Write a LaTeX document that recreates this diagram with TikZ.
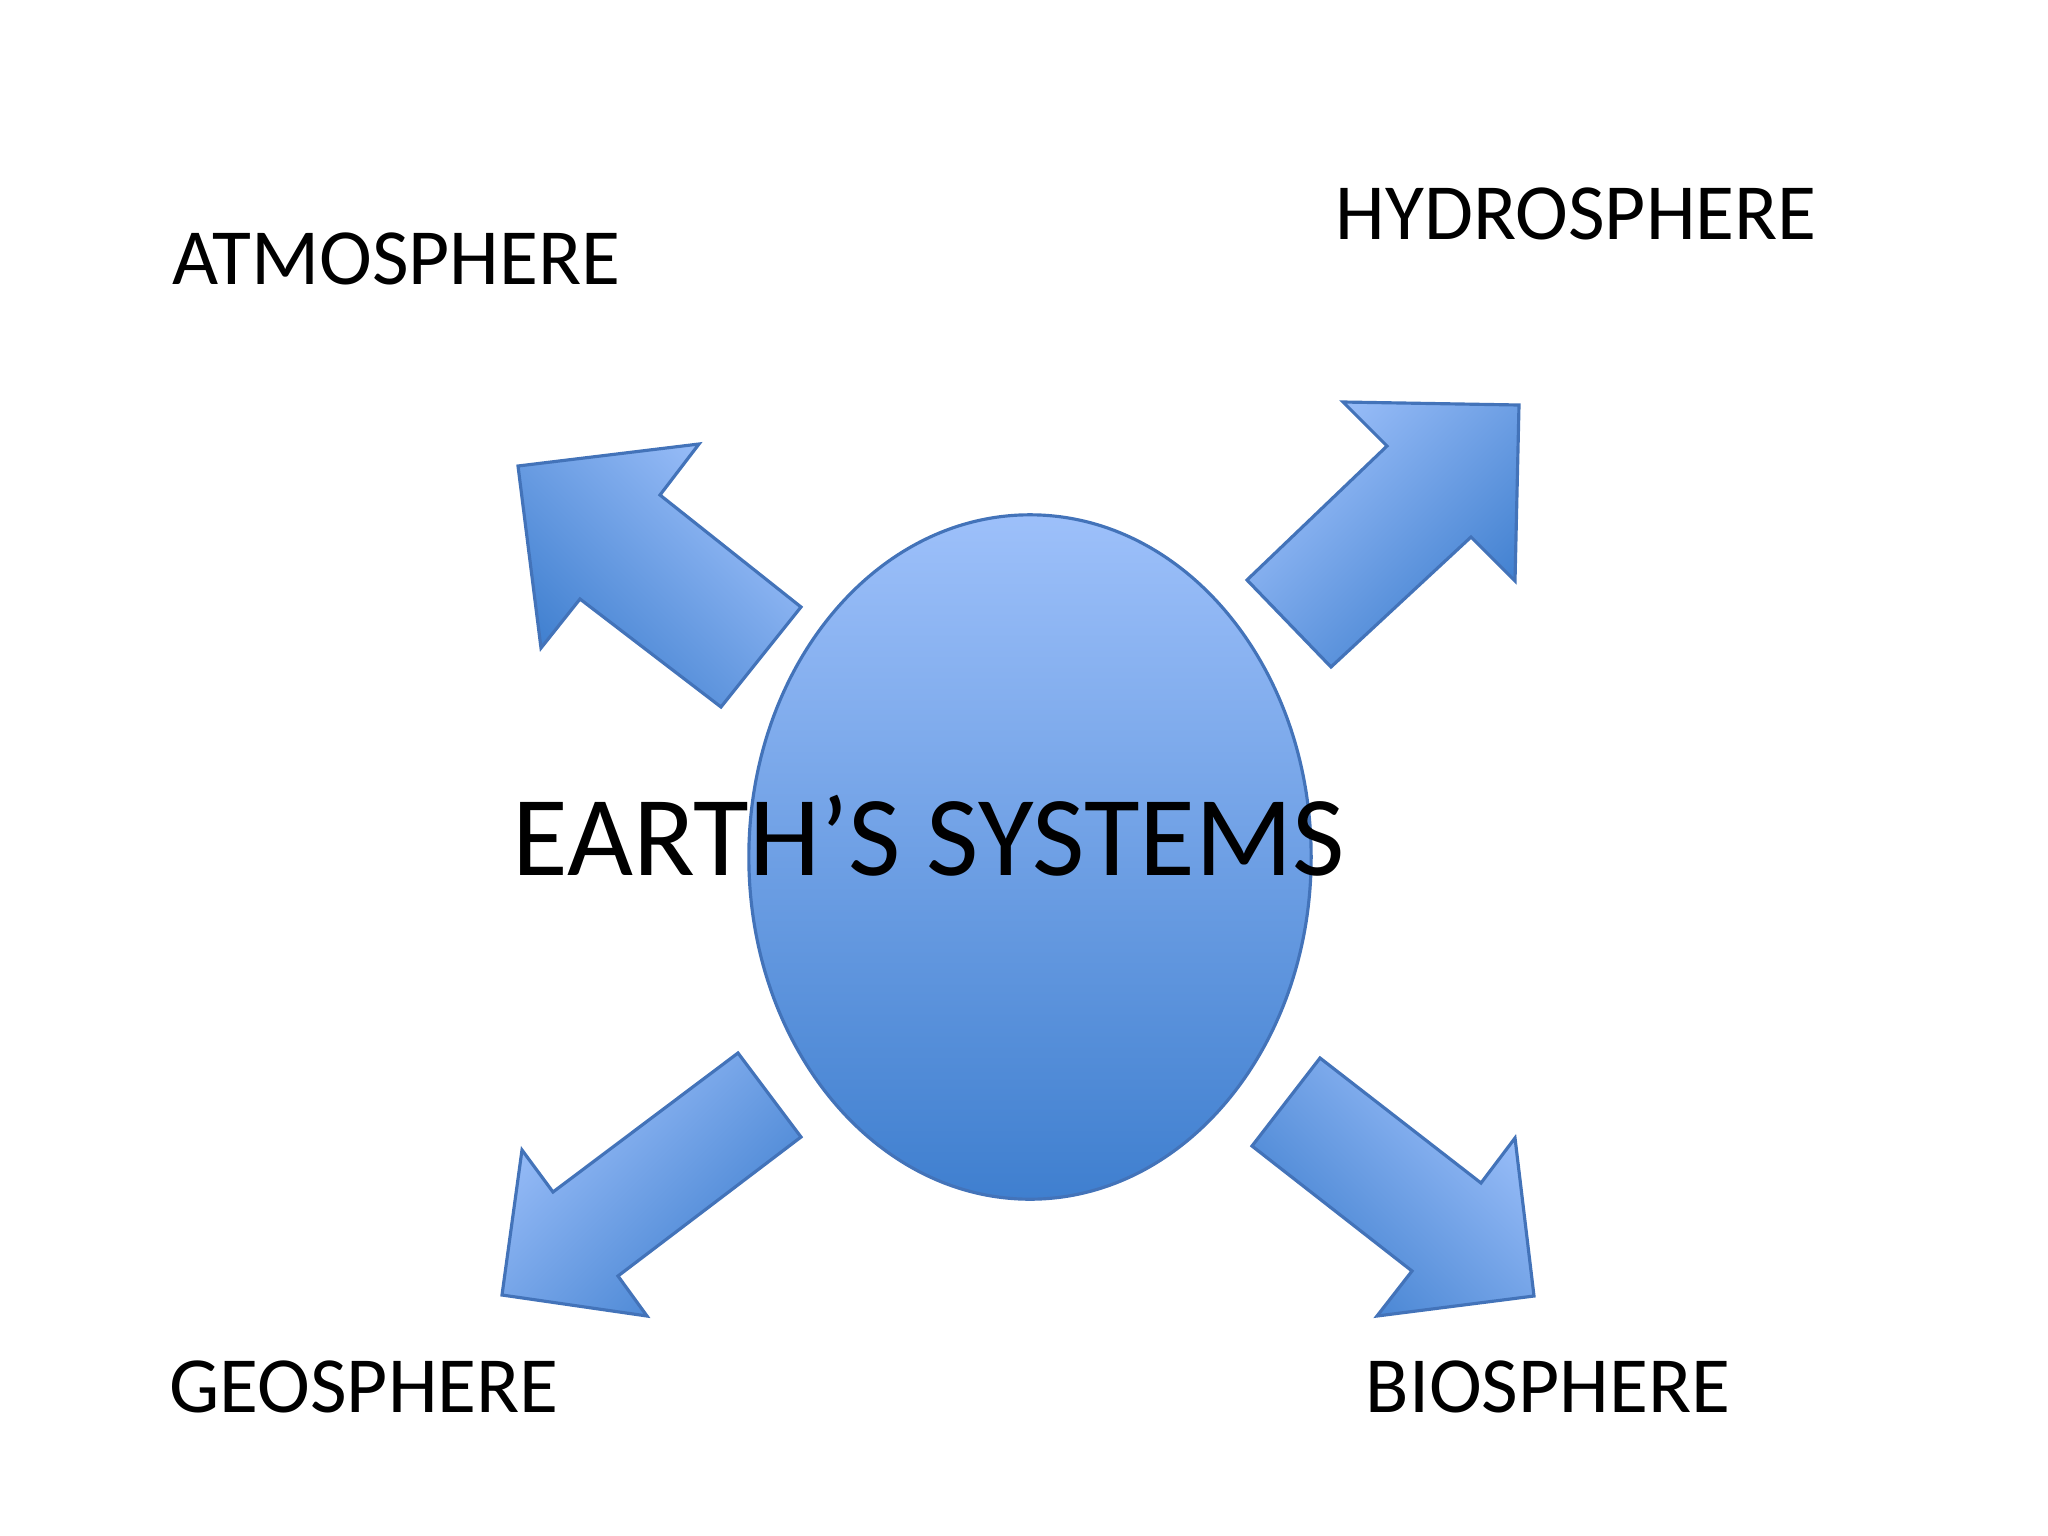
\documentclass[tikz,border=0pt]{standalone}
\usepackage{fontspec}
\setmainfont{Carlito}
\usetikzlibrary{shapes.geometric}
\definecolor{skylight}{HTML}{9DC0FA}
\definecolor{skydark}{HTML}{3F7FCF}
\definecolor{rimblue}{HTML}{4373B9}

\begin{document}
\begin{tikzpicture}
            [x=0.01cm,y=-0.01cm,
             sphere/.style={anchor=base west,inner sep=0pt,font=\fontsize{22.65pt}{27pt}\selectfont},
             headline/.style={anchor=base west,inner sep=0pt,font=\fontsize{32.4pt}{38pt}\selectfont},
             globe/.style={ellipse,draw=rimblue,line width=0.9pt,top color=skylight,bottom color=skydark,minimum width=5.62cm,minimum height=6.84cm,inner sep=0pt},
             blockarrow/.style={draw=rimblue,line width=0.9pt,line join=miter,top color=skylight,bottom color=skydark}]
            \useasboundingbox (0,0) rectangle (2048,1536);
            \node[globe] (earth) at (1030,857) {};
            % the four arrows
            \draw[blockarrow,shading angle=-45] (518,466) -- (699,444) -- (660,495) -- (801,607) -- (721,707) -- (580,599) -- (541,648) -- cycle;
            \draw[blockarrow,shading angle=45] (1519,405) -- (1515,581) -- (1471,537) -- (1331,667) -- (1247,580) -- (1387,446) -- (1343,402) -- cycle;
            \draw[blockarrow,shading angle=45] (502,1295) -- (522,1150) -- (553,1192) -- (738,1053) -- (801,1137) -- (618,1276) -- (647,1316) -- cycle;
            \draw[blockarrow,shading angle=-45] (1534,1296) -- (1377,1316) -- (1412,1271) -- (1252,1146) -- (1320,1058) -- (1481,1183) -- (1515,1138) -- cycle;
            % the labels
            \node[sphere] (atmo) at (172,284) {ATMOSPHERE};
            \node[sphere] (hydro) at (1335,239) {HYDROSPHERE};
            \node[sphere] (geo) at (169,1412) {GEOSPHERE};
            \node[sphere] (bio) at (1365,1412) {BIOSPHERE};
            \node[headline] (title) at (512,875) {EARTH’S SYSTEMS};
        \end{tikzpicture}
\end{document}
